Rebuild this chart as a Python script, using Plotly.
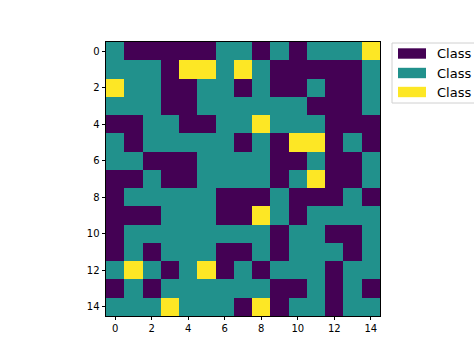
import plotly.graph_objects as go

# Class grid (rows top to bottom, columns left to right)
grid = [
    [1,0,0,0,0,0,1,1,0,1,0,1,1,1,2],
    [1,1,1,0,2,2,1,2,1,0,0,0,0,0,1],
    [2,1,1,0,0,1,1,0,1,0,0,1,0,0,1],
    [1,1,1,0,0,1,1,1,1,1,1,0,0,0,1],
    [0,0,1,1,0,0,1,1,2,1,1,1,0,0,0],
    [1,0,1,1,1,1,1,0,1,0,2,2,0,1,0],
    [1,1,0,0,0,1,1,1,1,0,0,1,0,0,1],
    [0,0,1,0,0,1,1,1,1,0,1,2,0,0,1],
    [0,1,1,1,1,1,0,0,0,1,0,0,0,1,0],
    [0,0,0,1,1,1,0,0,2,1,0,1,1,1,1],
    [0,1,1,1,1,1,1,1,1,0,1,1,0,0,1],
    [0,1,0,1,1,1,0,0,1,0,1,1,1,0,1],
    [1,2,1,0,1,2,0,1,0,1,1,1,0,1,1],
    [0,1,0,1,1,1,1,1,1,0,0,1,0,1,0],
    [1,1,1,2,1,1,1,0,2,0,1,1,0,1,1],
]
x_idx = list(range(15))
y_idx = list(range(15))
class_names = ["Class 0", "Class 1", "Class 2"]
class_colors = ["#440154", "#21918c", "#fde725"]
tick_vals = [0, 2, 4, 6, 8, 10, 12, 14]

W, H = 474, 355
L, R, T, B = 106, 380, 42, 316

def px_x(p):
    return (p - L) / (R - L)

def px_y(p):
    return (B - p) / (B - T)

fig = go.Figure()
fig.add_trace(go.Heatmap(
    z=grid, x=x_idx, y=y_idx,
    colorscale=[[0, class_colors[0]], [0.5, class_colors[1]], [1, class_colors[2]]],
    zmin=0, zmax=2, showscale=False, hoverinfo="skip",
))

axis_common = dict(
    showgrid=False, zeroline=False, showline=True, mirror=True,
    linecolor="black", linewidth=0.8,
    ticks="outside", ticklen=3.5, tickwidth=0.8, tickcolor="black",
    tickvals=tick_vals, ticktext=[str(v) for v in tick_vals],
    tickfont=dict(family="DejaVu Sans", size=10, color="black"),
)
fig.update_xaxes(range=[-0.5, 14.5], **axis_common)
fig.update_yaxes(range=[14.5, -0.5], **axis_common)

# Manual legend (clipped at the right edge like the reference)
shapes = [dict(
    type="rect", xref="paper", yref="paper",
    x0=px_x(392), x1=px_x(490), y0=px_y(103), y1=px_y(43),
    line=dict(color="#d0d0d0", width=1), fillcolor="rgba(255,255,255,0.8)", layer="above",
)]
annotations = []
row_centers = [53.5, 73, 92]
for name, col, yc in zip(class_names, class_colors, row_centers):
    shapes.append(dict(
        type="rect", xref="paper", yref="paper",
        x0=px_x(398), x1=px_x(426), y0=px_y(yc + 5.2), y1=px_y(yc - 5.2),
        line=dict(width=0), fillcolor=col, layer="above",
    ))
    annotations.append(dict(
        xref="paper", yref="paper", x=px_x(434.5), y=px_y(yc),
        text=name, showarrow=False, xanchor="left", yanchor="middle",
        font=dict(family="DejaVu Sans", size=13, color="black"),
    ))

fig.update_layout(
    width=W, height=H,
    margin=dict(l=L, r=W - R, t=T, b=H - B, autoexpand=False),
    paper_bgcolor="white", plot_bgcolor="white",
    shapes=shapes, annotations=annotations, showlegend=False,
)
fig.write_html("out.html")
